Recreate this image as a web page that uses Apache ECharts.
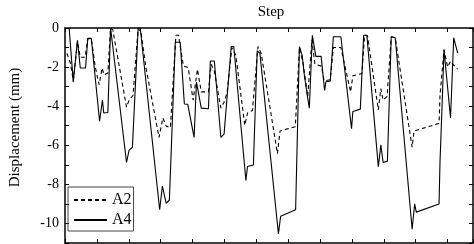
<!DOCTYPE html>
<html>

<head>
    <meta charset="utf-8" />
    <title>Displacement</title>
    <style type="text/css">
        * {
            margin: 0;
            padding: 0;
        }

        html,
        body {
            width: 474px;
            height: 244px;
            background: #fff;
        }
    </style>
</head>

<body>
    <div id="main" style="width: 474px;height:244px;"></div>
    <script type="text/javascript" src="https://cdn.jsdelivr.net/npm/echarts@6/dist/echarts.min.js"></script>
    <script type="text/javascript">
        // data (step, displacement in mm)
        const a4Steps = [2.6, 5.2, 7.8, 9.6, 12.9, 14.3, 16.5, 21.7, 23.5, 24.3, 26.9, 28.6, 29.4, 38.6, 40.2, 42.3, 45.9, 47.2,
            59.4, 61.1, 63.5, 65.5, 69.2, 72.3, 74.9, 77.0, 81.0, 82.5, 85.5, 90.0, 91.2, 93.7, 97.8, 99.8, 104.3, 105.9,
            113.5, 114.5, 118.2, 120.6, 122.3, 133.9, 135.3, 144.7, 147.1, 148.8, 150.0, 151.9, 153.3, 155.2, 157.4, 160.7,
            162.9, 163.7, 166.4, 168.4, 173.1, 179.8, 180.6, 185.3, 187.4, 189.4, 196.6, 198.2, 199.6, 202.3, 204.7, 207.2,
            217.8, 219.4, 220.4, 234.7, 235.3, 236.4, 236.8, 237.8, 241.9, 243.9, 246.4];
        const a4Disp = [0, -2.77, -0.63, -2.05, -2.05, -0.53, -0.53, -4.77, -3.69, -4.35, -4.32, 0, 0, -6.88, -6.26, -6.1, 0, 0,
            -9.3, -8.09, -8.97, -8.8, -0.73, -0.73, -3.89, -3.9, -5.6, -2.77, -4.1, -4.13, -1.69, -1.69, -5.6, -5.43, -0.95, -0.95,
            -7.8, -7.09, -7.01, -1.16, -1.3, -10.53, -9.63, -9.3, -0.95, -1.4, -2.3, -3.4, -4.1, -0.37, -1.45, -1.45,
            -3.2, -2.75, -2.72, -0.45, -0.45, -5.15, -4.27, -4.15, -0.37, -0.37, -7.09, -5.98, -6.88, -6.81, -0.45, -0.5,
            -10.3, -9.0, -9.42, -9.0, -6.84, -6.84, -3.5, -1.11, -4.6, -0.5, -1.28];

        const a2Steps = [1.2, 3.4, 5.2, 7.8, 9.6, 12.6, 14.3, 16.5, 19.0, 21.4, 23.3, 24.5, 26.9, 28.6, 30.0, 38.6, 40.2, 42.7,
            45.9, 47.8, 50.8, 59.0, 61.4, 63.5, 66.1, 69.6, 71.2, 74.3, 77.3, 80.4, 83.1, 85.5, 90.0, 91.7, 93.7, 97.8, 99.8,
            101.7, 104.7, 107.2, 112.8, 114.5, 117.6, 121.1, 123.1, 133.3, 134.9, 144.5, 147.1, 149.4, 152.3, 154.9, 156.8,
            160.9, 162.6, 166.4, 168.4, 173.1, 179.2, 180.6, 186.3, 188.0, 189.8, 196.6, 198.2, 199.6, 202.1, 204.7, 207.2,
            217.8, 219.0, 234.7, 235.3, 236.4, 237.8, 240.1, 241.9, 243.8, 246.3];
        const a2Disp = [-1.3, -1.8, -2.7, -0.7, -1.5, -1.5, -0.55, -0.55, -2.0, -2.9, -2.05, -2.4, -2.3, 0, -0.1, -4.05, -3.69, -3.44,
            0, -0.3, -2.03, -5.6, -4.6, -5.02, -5.1, -0.37, -0.37, -1.94, -2.03, -3.69, -2.11, -3.27, -3.27, -1.86, -2.2, -4.1, -3.8,
            -3.3, -1.0, -1.4, -4.98, -4.35, -4.22, -0.95, -1.3, -6.43, -5.27, -5.05, -1.0, -1.8, -3.5, -0.6, -1.85,
            -1.95, -2.7, -2.65, -1.0, -1.0, -3.27, -2.44, -2.33, -0.37, -0.4, -4.19, -3.1, -3.69, -3.5, -0.45, -0.5,
            -6.1, -5.27, -4.88, -3.44, -3.44, -1.1, -2.0, -1.7, -1.9, -2.1];

        const seriesNames = ['A2', 'A4'];

        const pairs = (xs, ys) => xs.map((x, i) => [x, ys[i]]);
        const FONT = 'Liberation Serif';
        const axisLine = { show: true, onZero: false, lineStyle: { color: '#000', width: 1.5 } };
        const tick = { show: true, inside: true, length: 4, lineStyle: { color: '#000' } };

        const myChart = echarts.init(document.getElementById('main'));
        myChart.setOption({
            animation: false,
            backgroundColor: '#fff',
            grid: { left: 55, right: 1, top: 21, bottom: 1 },
            legend: {
                orient: 'vertical',
                left: 68,
                top: 187,
                data: seriesNames,
                itemWidth: 33,
                itemHeight: 10,
                itemGap: 4,
                padding: [5, 2, 3, 5],
                borderColor: '#444',
                borderWidth: 1,
                itemStyle: { opacity: 0 },
                textStyle: { fontFamily: FONT, fontSize: 16, color: '#000', lineHeight: 14 }
            },
            xAxis: [{
                type: 'value',
                position: 'top',
                min: 0,
                max: 256,
                interval: 20,
                name: 'Step',
                nameLocation: 'middle',
                nameGap: 8,
                nameTextStyle: { fontFamily: FONT, fontSize: 15, color: '#000', padding: [0, 0, 0, 4] },
                axisLine: axisLine,
                axisTick: tick,
                axisLabel: { show: false },
                splitLine: { show: false }
            }, {
                type: 'value',
                position: 'bottom',
                min: 0,
                max: 256,
                interval: 20,
                axisLine: axisLine,
                axisTick: tick,
                axisLabel: { show: false },
                splitLine: { show: false }
            }],
            yAxis: [{
                type: 'value',
                position: 'left',
                min: -11,
                max: 0,
                interval: 1,
                name: 'Displacement (mm)',
                nameLocation: 'middle',
                nameGap: 42,
                nameTextStyle: { fontFamily: FONT, fontSize: 15, color: '#000', padding: [0, 0, 0, 16] },
                axisLine: axisLine,
                axisTick: tick,
                axisLabel: {
                    fontFamily: FONT, fontSize: 14, color: '#000', margin: 6,
                    formatter: v => (v % 2 === 0 ? String(v) : '')
                },
                splitLine: { show: false }
            }, {
                type: 'value',
                position: 'right',
                min: -11,
                max: 0,
                interval: 1,
                axisLine: axisLine,
                axisTick: tick,
                axisLabel: { show: false },
                splitLine: { show: false }
            }],
            series: [{
                name: 'A2',
                type: 'line',
                xAxisIndex: 0,
                yAxisIndex: 0,
                symbol: 'none',
                data: pairs(a2Steps, a2Disp),
                lineStyle: { color: '#000', width: 1.1, type: [4, 3] },
                itemStyle: { color: '#000' }
            }, {
                name: 'A4',
                type: 'line',
                xAxisIndex: 0,
                yAxisIndex: 0,
                symbol: 'none',
                data: pairs(a4Steps, a4Disp),
                lineStyle: { color: '#000', width: 1.1 },
                itemStyle: { color: '#000' }
            }]
        });
    </script>
</body>

</html>
